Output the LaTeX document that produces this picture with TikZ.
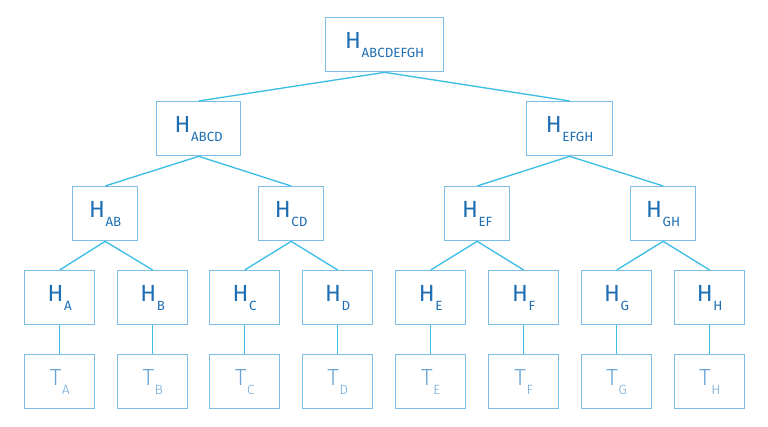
\documentclass[tikz,border=0pt]{standalone}
\usepackage{fontspec}
\setmainfont{Fira Sans}
\definecolor{boxc}{RGB}{125,190,232}
\definecolor{linec}{RGB}{60,190,228}
\definecolor{htxt}{RGB}{30,110,180}
\definecolor{ttxt}{RGB}{105,165,215}
\newcommand{\lab}[2]{\fontsize{17.5}{20}\selectfont #1\kern0.5pt\raisebox{-0.38em}{\fontsize{10}{11}\selectfont #2}}
\begin{document}
\begin{tikzpicture}[x=0.75pt,y=-0.75pt,
  bx/.style={draw=boxc,line width=1pt,minimum height=40.5pt,inner sep=0pt,anchor=north west},
  hb/.style={bx,text=htxt},
  tb/.style={bx,text=ttxt,font=\addfontfeatures{}},
  ln/.style={draw=linec,line width=1pt}]
\useasboundingbox[fill=white] (0,0) rectangle (768,427);
\node[hb,minimum width=88.5pt] (r) at (325,17) {\lab{H}{ABCDEFGH}};
\node[hb,minimum width=63pt] (a) at (156,101) {\lab{H}{ABCD}};
\node[hb,minimum width=64.5pt] (e) at (526,101) {\lab{H}{EFGH}};
\foreach \n/\x/\s in {ab/72/AB,cd/258/CD,ef/444/EF,gh/630/GH}
  \node[hb,minimum width=48.75pt] (\n) at (\x,186) {\lab{H}{\s}};
\foreach \n/\x in {A/24,B/117,C/209,D/302,E/395,F/488,G/581,H/674}{
  \node[hb,minimum width=52.5pt] (h\n) at (\x,270) {\lab{H}{\n}};
  \node[tb,minimum width=52.5pt] (t\n) at (\x,354) {\fontspec{Fira Sans Light}\lab{T}{\n}};
  \draw[ln] (h\n.south) -- (t\n.north);}
\draw[ln] (r.south) -- (a.north) (r.south) -- (e.north);
\draw[ln] (a.south) -- (ab.north) (a.south) -- (cd.north);
\draw[ln] (e.south) -- (ef.north) (e.south) -- (gh.north);
\foreach \p/\c/\d in {ab/A/B,cd/C/D,ef/E/F,gh/G/H}
  \draw[ln] (\p.south) -- (h\c.north) (\p.south) -- (h\d.north);
\end{tikzpicture}
\end{document}
